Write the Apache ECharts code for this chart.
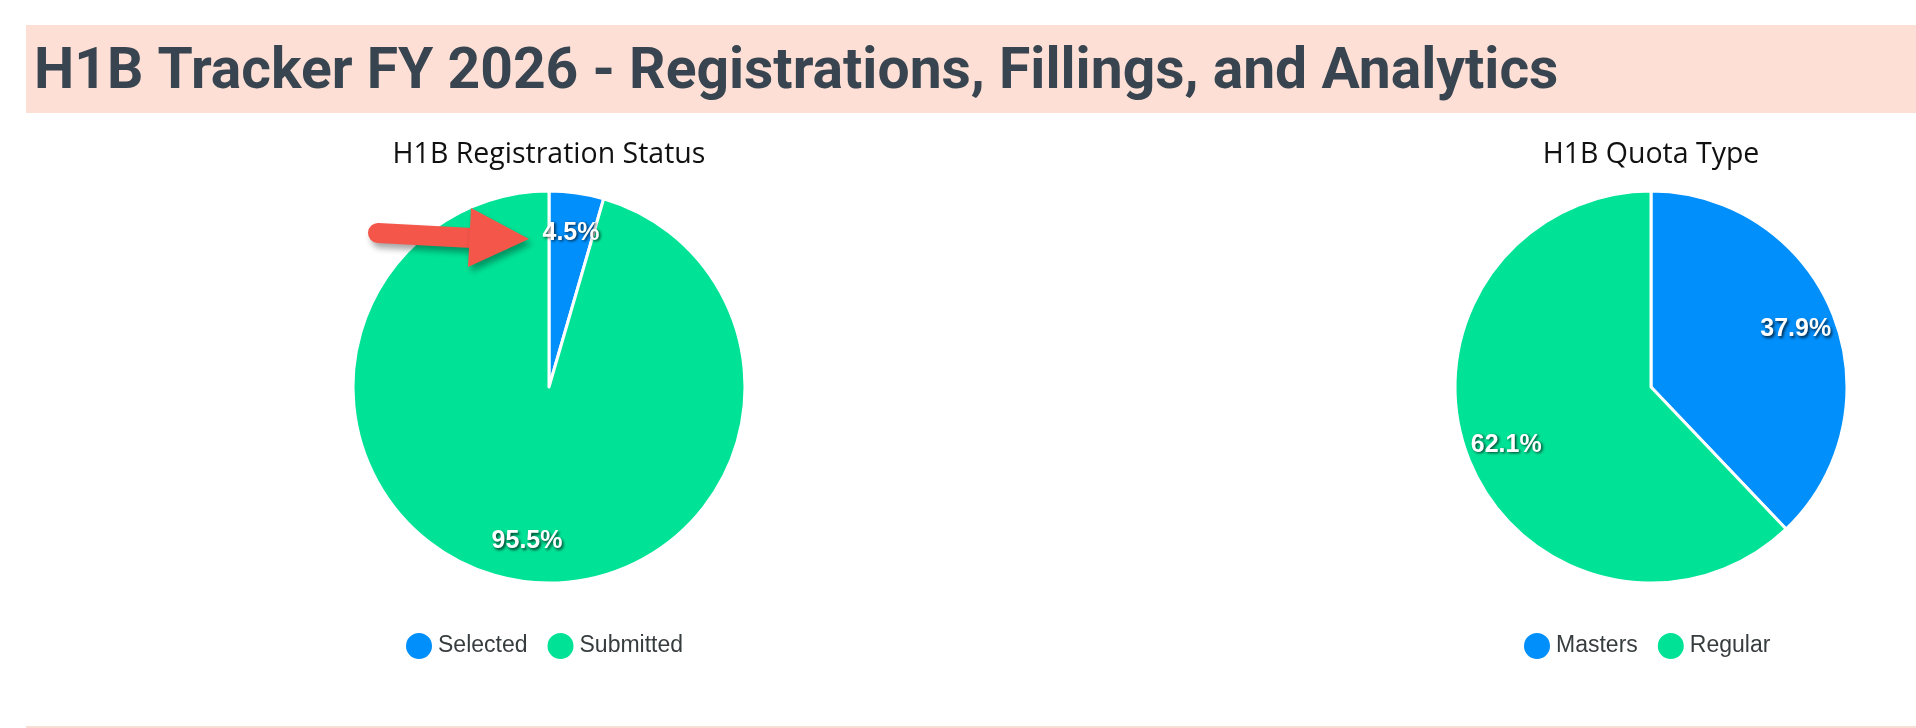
<!DOCTYPE html>
<html>
<head>
<meta charset="utf-8">
<script src="https://cdn.jsdelivr.net/npm/echarts@6/dist/echarts.min.js"></script>
<style>
  html, body { margin: 0; padding: 0; background: #fff; }
  #chart { width: 1916px; height: 728px; }
</style>
</head>
<body>
<div id="chart"></div>
<script>
// ---- data ----
const pageTitle = 'H1B Tracker FY 2026 - Registrations, Fillings, and Analytics';
const statusTitle = 'H1B Registration Status';
const statusCategories = ['Selected', 'Submitted'];
const statusValues = [4.5, 95.5];
const quotaTitle = 'H1B Quota Type';
const quotaCategories = ['Masters', 'Regular'];
const quotaValues = [37.9, 62.1];
const sliceColors = ['#008FFB', '#00E396'];

// ---- layout ----
const leftCenter = [549, 387], rightCenter = [1651, 387];
const pieR = 196;

function toData(cats, vals) {
  return cats.map((c, i) => ({ name: c, value: vals[i], itemStyle: { color: sliceColors[i] } }));
}

function pieSeries(center, cats, vals) {
  return {
    type: 'pie',
    center: center,
    radius: [0, pieR],
    startAngle: 90,
    clockwise: true,
    label: { show: false },
    labelLine: { show: false },
    itemStyle: { borderColor: '#ffffff', borderWidth: 3 },
    emphasis: { disabled: true },
    data: toData(cats, vals),
    z: 2
  };
}

function labelSeries(center, cats, vals) {
  return {
    type: 'pie',
    center: center,
    radius: [pieR * 0.56, pieR],
    startAngle: 90,
    clockwise: true,
    silent: true,
    emphasis: { disabled: true },
    itemStyle: { color: 'rgba(0,0,0,0)', borderWidth: 0 },
    label: {
      show: true,
      position: 'inside',
      formatter: p => p.percent.toFixed(1) + '%',
      color: '#ffffff',
      fontFamily: 'Liberation Sans, Arial, sans-serif',
      fontWeight: 'bold',
      fontSize: 25,
      textShadowColor: 'rgba(0,0,0,0.75)',
      textShadowBlur: 3,
      textShadowOffsetX: 1.5,
      textShadowOffsetY: 1.5
    },
    labelLine: { show: false },
    data: cats.map((c, i) => ({ name: c, value: vals[i] })),
    z: 3
  };
}

const legendCommon = {
  orient: 'horizontal',
  icon: 'circle',
  itemWidth: 28,
  itemHeight: 28,
  itemGap: 18,
  padding: 0,
  top: 631,
  selectedMode: false,
  textStyle: { fontFamily: 'Liberation Sans, Arial, sans-serif', fontSize: 23, color: '#373d3f', padding: [0, 0, 0, 0] }
};

const arrowColor = '#f4574a';
const arrowShadow = { shadowBlur: 6, shadowColor: 'rgba(0,0,0,0.35)', shadowOffsetX: 3, shadowOffsetY: 5 };

const chart = echarts.init(document.getElementById('chart'), null, { renderer: 'canvas' });
chart.setOption({
  backgroundColor: '#ffffff',
  animation: false,
  title: [
    {
      text: pageTitle, left: 34, top: 45, padding: 0,
      textStyle: { fontFamily: 'Roboto', fontWeight: 'bold', fontSize: 57, color: '#384550' }
    },
    {
      text: statusTitle, left: leftCenter[0], textAlign: 'center', top: 140, padding: 0,
      textStyle: { fontFamily: 'Open Sans', fontWeight: 'normal', fontSize: 28.5, color: '#111111' }
    },
    {
      text: quotaTitle, left: rightCenter[0], textAlign: 'center', top: 140, padding: 0,
      textStyle: { fontFamily: 'Open Sans', fontWeight: 'normal', fontSize: 28.5, color: '#111111' }
    }
  ],
  legend: [
    Object.assign({}, legendCommon, { left: 404, data: statusCategories }),
    Object.assign({}, legendCommon, { left: 1522, data: quotaCategories })
  ],
  graphic: [
    { type: 'rect', z: -10, shape: { x: 26, y: 25, width: 1890, height: 88 }, style: { fill: '#fddfd5' } },
    { type: 'rect', z: -10, shape: { x: 26, y: 726, width: 1890, height: 2 }, style: { fill: '#f8ddd4' } },
    { type: 'polyline', z: 100, shape: { points: [[378, 233], [472, 238]] },
      style: Object.assign({ stroke: arrowColor, lineWidth: 20, lineCap: 'round', fill: null }, arrowShadow) },
    { type: 'polygon', z: 100, shape: { points: [[471, 208], [529, 239], [468, 267]] },
      style: Object.assign({ fill: arrowColor }, arrowShadow) }
  ],
  series: [
    pieSeries(leftCenter, statusCategories, statusValues),
    pieSeries(rightCenter, quotaCategories, quotaValues),
    labelSeries(leftCenter, statusCategories, statusValues),
    labelSeries(rightCenter, quotaCategories, quotaValues)
  ]
});
</script>
</body>
</html>
